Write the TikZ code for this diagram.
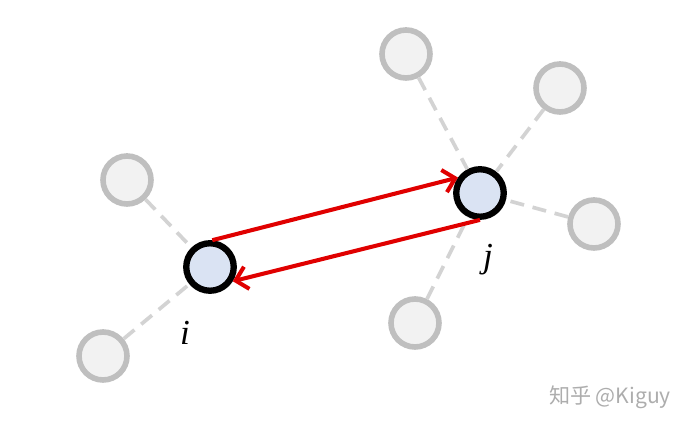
\documentclass[tikz,border=0pt]{standalone}
\usepackage{fontspec}
\setmainfont{Liberation Serif}
\newfontfamily\cjkfont{Noto Sans CJK SC}
\usetikzlibrary{arrows.meta}

\definecolor{nodeblue}{HTML}{DAE3F3}
\definecolor{nodegray}{HTML}{F2F2F2}
\definecolor{ringgray}{HTML}{BFBFBF}
\definecolor{dashgray}{HTML}{D3D3D3}
\definecolor{linkred}{HTML}{E00000}

\begin{document}
\begin{tikzpicture}[x=0.02cm, y=-0.02cm]
    % Define styles
    \tikzstyle{mainnode} = [circle, draw=black, fill=nodeblue, line width=3.6pt, minimum size=0.95cm, inner sep=0pt]
    \tikzstyle{nbnode} = [circle, draw=ringgray, fill=nodegray, line width=3.2pt, minimum size=0.96cm, inner sep=0pt]
    \tikzstyle{link} = [dashgray, line width=2.1pt, dash pattern=on 8pt off 5pt]
    \tikzstyle{msg} = [linkred, line width=2.3pt, -{Straight Barb[length=6.5pt,width=13pt]}]
    \tikzstyle{label} = [inner sep=0pt, font=\fontsize{20}{20}\selectfont\itshape]

    \useasboundingbox (0,0) rectangle (687,428);

    % Central nodes
    \node [mainnode] (i) at (210,267) {};
    \node [mainnode] (j) at (480,193) {};

    % Neighbours of i
    \node [nbnode] (i_up) at (127,180) {};
    \node [nbnode] (i_down) at (103,356) {};

    % Neighbours of j
    \node [nbnode] (j_up) at (406,54) {};
    \node [nbnode] (j_upright) at (560,88) {};
    \node [nbnode] (j_right) at (594,224) {};
    \node [nbnode] (j_down) at (415,323) {};

    % Dashed links
    \draw [link] (i_up) -- (i);
    \draw [link] (i_down) -- (i);
    \draw [link] (j_up) -- (j);
    \draw [link] (j_upright) -- (j);
    \draw [link] (j_right) -- (j);
    \draw [link] (j_down) -- (j);

    % Messages
    \draw [msg] (i.85) -- (j.145);
    \draw [msg] (j.270) -- (i.328);

    % Labels
    \node [label] (ilabel) at (185,333) {i};
    \node [label] (jlabel) at (488,260) {j};

    % Watermark
    \node [text=black!32, font=\cjkfont\fontsize{12}{12}\selectfont] (mark) at (610,397) {知乎 @Kiguy};
\end{tikzpicture}
\end{document}
